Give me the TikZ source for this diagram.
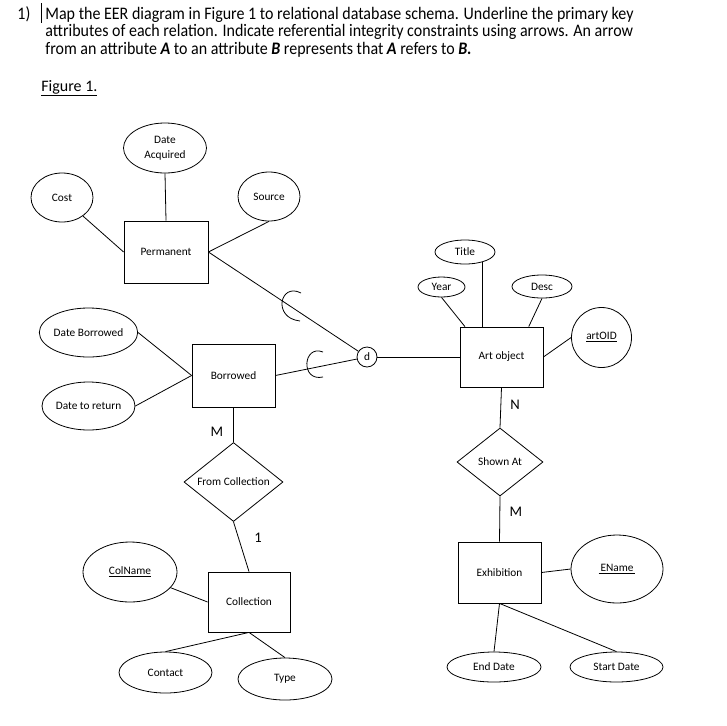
\documentclass[tikz,border=0pt]{standalone}
\usepackage{fontspec}
\setmainfont{Carlito}
\usetikzlibrary{shapes.geometric}
\begin{document}
\begin{tikzpicture}[x=0.75pt,y=-0.75pt,
  every node/.style={font=\fontsize{8.5}{11}\selectfont},
  ent/.style={draw,rectangle,minimum width=62.25pt,minimum height=46pt,inner sep=0pt},
  attr/.style={draw,ellipse,inner sep=0pt},
  rel/.style={draw,diamond,shape aspect=1.3,inner sep=0pt},
  card/.style={font=\fontsize{11}{13}\selectfont,inner sep=0pt},
  body/.style={anchor=base west,inner sep=0pt,font=\fontsize{12}{13}\selectfont},
  conn/.style={line width=0.6pt},
  line width=0.6pt]
\useasboundingbox (0,0) rectangle (727,725);
% header text
\node[body] (l0) at (17,19) {\scalebox{1}[1.1]{1)}};
\node[body] (l1) at (45,19) {\scalebox{1}[1.1]{Map the EER diagram in Figure 1 to relational database schema. Underline the primary key}};
\node[body] (l2) at (45,36.5) {\scalebox{1}[1.1]{attributes of each relation. Indicate referential integrity constraints using arrows. An arrow}};
\node[body] (l3) at (45,54) {\scalebox{1}[1.1]{from an attribute \textbf{\textit{A}} to an attribute \textbf{\textit{B}} represents that \textbf{\textit{A}} refers to \textbf{\textit{B.}}}};
\node[body] (fig) at (41,91) {\underline{Figure 1.}};
\draw[line width=0.5pt] (41.5,3) -- (41.5,23);
% entities and attributes
\node[ent,minimum width=63pt,minimum height=46.5pt] (perm) at (166,252) {Permanent};
\node[attr,minimum width=62.25pt,minimum height=37.5pt,align=center] (da) at (165,148) {Date\\Acquired};
\node[attr,minimum width=46.5pt,minimum height=36.75pt] (cost) at (62,197.5) {Cost};
\node[attr,minimum width=46.5pt,minimum height=36.75pt] (src) at (269,196.5) {Source};
\node[ent,minimum height=47.25pt] (bor) at (233.5,375.5) {Borrowed};
\node[attr,minimum width=69.75pt,minimum height=36.75pt] (dbor) at (88.5,332.5) {Date Borrowed};
\node[attr,minimum width=69.75pt,minimum height=36pt] (dret) at (88.5,406) {Date to return};
\node[rel,minimum width=74.25pt,minimum height=59.25pt] (fc) at (233.5,482) {From Collection};
\node[ent,minimum width=61.5pt,minimum height=45pt] (col) at (249,602) {Collection};
\node[attr,minimum width=70.5pt,minimum height=45pt] (cname) at (130,572) {\underline{ColName}};
\node[attr,minimum width=69.75pt,minimum height=30.75pt] (contact) at (165.5,672.5) {Contact};
\node[attr,minimum width=70.5pt,minimum height=31.5pt] (type) at (285,679) {Type};
\node[draw,circle,minimum size=15pt,inner sep=0pt] (d) at (367,357) {d};
\node[ent,minimum height=45pt] (art) at (501.5,357) {Art object};
\node[attr,minimum width=45pt,minimum height=18pt] (title) at (465,252) {Title};
\node[attr,minimum width=35.25pt,minimum height=15pt] (year) at (441.5,287) {Year};
\node[attr,minimum width=45pt,minimum height=17.25pt] (desc) at (542,286.5) {Desc};
\node[draw,circle,minimum size=45pt,inner sep=0pt] (oid) at (601.5,337.5) {\underline{artOID}};
\node[rel,minimum width=64.5pt,minimum height=51pt] (shown) at (500,462) {Shown At};
\node[ent,minimum height=45.75pt] (exh) at (499.5,572.5) {Exhibition};
\node[attr,minimum width=69pt,minimum height=51pt] (ename) at (617,569) {\underline{\,EName\,}};
\node[attr,minimum width=70.5pt,minimum height=22.5pt] (edate) at (494,667) {End Date};
\node[attr,minimum width=69.75pt,minimum height=22.5pt] (sdate) at (616.5,667) {Start Date};
% cardinalities
\node[card] (m1) at (217,432) {M};
\node[card] (one) at (258,538) {1};
\node[card] (n1) at (515,405) {N};
\node[card] (m2) at (516,512) {M};
% connectors
\draw[conn] (da.south) -- (perm.north);
\draw[conn] (cost) -- (perm.west);
\draw[conn] (src.south) -- (perm.east);
\draw[conn] (perm.east) -- (d);
\draw[conn] (bor.east) -- (d);
\draw[conn] (d) -- (art.west);
\draw[conn] (title.-30) -- (title.-30 |- art.north);
\draw[conn] (year.south) -- ([xshift=4pt]art.north west);
\draw[conn] (desc.south) -- ([xshift=-11pt]art.north east);
\draw[conn] (oid.west) -- (art.east);
\draw[conn] (art.south) -- (shown.north);
\draw[conn] (shown.south) -- (exh.north);
\draw[conn] (exh.east) -- (ename.west);
\draw[conn] (exh.south) -- (edate.north);
\draw[conn] (exh.south) -- (sdate.north);
\draw[conn] (dbor.east) -- (bor.west);
\draw[conn] (dret.east) -- (bor.west);
\draw[conn] (bor.south) -- (fc.north);
\draw[conn] (fc.south) -- (col.north);
\draw[conn] (cname) -- (col.west);
\draw[conn] (col.south) -- (contact.north);
\draw[conn] (col.south) -- (type.north);
% subset symbols
\draw[conn] (301,293) .. controls (280,282) and (272,318) .. (300,321);
\draw[conn] (323,352) .. controls (303,344) and (300,382) .. (323,377);
\end{tikzpicture}
\end{document}
